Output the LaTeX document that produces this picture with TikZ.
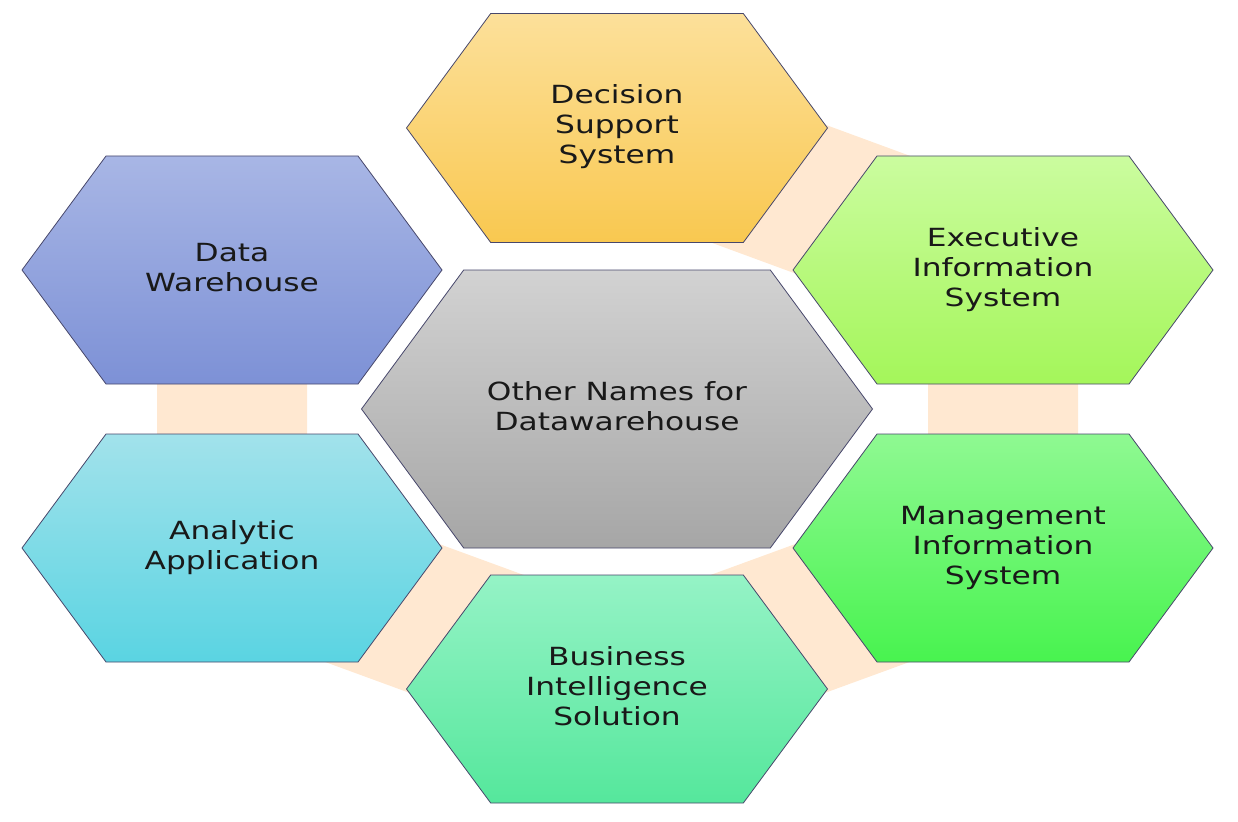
\documentclass[tikz,border=0pt]{standalone}
\usepackage{fontspec}
\setmainfont{DejaVu Sans}
\begin{document}
\begin{tikzpicture}[x=1pt,y=-1pt,
  lbl/.style={align=center,font=\fontsize{25}{30}\selectfont,text=black!90},
  band/.style={line width=150pt,draw=orange!20!white,draw opacity=0.9}]
\useasboundingbox (0,0) rectangle (1238,821);
\newcommand\hexa[7]{% name cx cy w h c1 c2
  \shade[top color=#6,bottom color=#7,draw=gray!80!blue!70!black,line width=0.8pt]
   ({#2-#4/2},#3) -- ({#2-#4/2+0.2*#4},{#3-#5/2}) -- ({#2+#4/2-0.2*#4},{#3-#5/2})
   -- ({#2+#4/2},#3) -- ({#2+#4/2-0.2*#4},{#3+#5/2}) -- ({#2-#4/2+0.2*#4},{#3+#5/2}) -- cycle;}
\newcommand\wide[1]{\scalebox{1.25}[1]{\begin{tabular}{@{}c@{}}#1\end{tabular}}}
\definecolor{dA}{HTML}{FCE09A}\definecolor{dB}{HTML}{F9C850}
\definecolor{wA}{HTML}{A8B6E5}\definecolor{wB}{HTML}{7D91D6}
\definecolor{eA}{HTML}{CBFC9F}\definecolor{eB}{HTML}{A4F65A}
\definecolor{mA}{HTML}{8FF992}\definecolor{mB}{HTML}{48F34F}
\definecolor{aA}{HTML}{A2E2EB}\definecolor{aB}{HTML}{5AD4E2}
\definecolor{bA}{HTML}{95F3C6}\definecolor{bB}{HTML}{55E79C}
\definecolor{cA}{HTML}{D2D2D2}\definecolor{cB}{HTML}{A6A6A6}
\coordinate (d) at (617,128);
\coordinate (w) at (232,270);
\coordinate (e) at (1003,270);
\coordinate (a) at (232,548);
\coordinate (m) at (1003,548);
\coordinate (b) at (617,689);
\draw[band] (d) -- (e) -- (m) -- (b) -- (a) -- (w);
\hexa{d}{617}{128}{421}{229}{dA}{dB}
\hexa{w}{232}{270}{420}{228}{wA}{wB}
\hexa{e}{1003}{270}{420}{228}{eA}{eB}
\hexa{a}{232}{548}{420}{228}{aA}{aB}
\hexa{m}{1003}{548}{420}{228}{mA}{mB}
\hexa{b}{617}{689}{421}{228}{bA}{bB}
\hexa{c}{617}{409}{511}{278}{cA}{cB}
\node[lbl] (dt) at (d) {\wide{Decision\\Support\\System}};
\node[lbl] (wt) at (w) {\wide{Data\\Warehouse}};
\node[lbl] (et) at (e) {\wide{Executive\\Information\\System}};
\node[lbl] (at) at (a) {\wide{Analytic\\Application}};
\node[lbl] (mt) at (m) {\wide{Management\\Information\\System}};
\node[lbl] (bt) at (b) {\wide{Business\\Intelligence\\Solution}};
\node[lbl] (ct) at (617,409) {\wide{Other Names for\\Datawarehouse}};
\end{tikzpicture}
\end{document}
